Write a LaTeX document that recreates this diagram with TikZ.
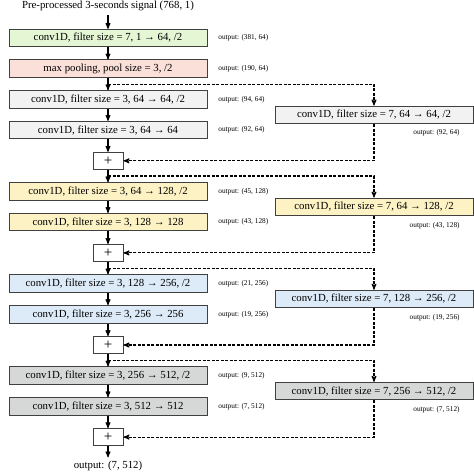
\documentclass[tikz,border=0pt]{standalone}
\usepackage{fontspec}
\setmainfont{Liberation Serif}
\usetikzlibrary{arrows,positioning}
\definecolor{cgreen}{RGB}{228,246,212}
\definecolor{cpink}{RGB}{251,223,217}
\definecolor{clight}{RGB}{242,242,242}
\definecolor{cyellow}{RGB}{252,242,196}
\definecolor{cblue}{RGB}{221,234,247}
\definecolor{cgray}{RGB}{214,216,216}
\begin{document}
\begin{tikzpicture}[->,>=stealth',line width=1.1pt,node distance=30.7pt]
\tikzstyle{every node}=[font=\fontsize{10.8}{12}\selectfont]
\tikzstyle{layer}=[draw=black!75,line width=1pt,minimum width=198pt,minimum height=17.5pt,inner sep=0pt]
\tikzstyle{plus}=[draw=black!75,line width=1pt,minimum width=30pt,minimum height=17pt,inner sep=0pt,font=\fontsize{15}{15}\selectfont]
\tikzstyle{outsize}=[font=\fontsize{7.3}{8}\selectfont,anchor=west,xshift=7pt]
\tikzstyle{outsizer}=[font=\fontsize{7.3}{8}\selectfont,anchor=north east,xshift=-10pt,yshift=-2pt]
\tikzstyle{skip}=[dash pattern=on 3pt off 1.5pt]
\useasboundingbox (0,0) rectangle (474pt,-474pt);
\node (In) at (108pt,-6pt) {Pre-processed 3-seconds signal (768, 1)};
\node[layer,fill=cgreen][below of=In,node distance=32pt] (C1) {conv1D, filter size = 7, 1 → 64, /2};
\node[layer,fill=cpink][below of=C1] (MP) {max pooling, pool size = 3, /2};
% stage 1
\node[layer,fill=clight][below of=MP] (A1) {conv1D, filter size = 3, 64 → 64, /2};
\node[layer,fill=clight][below of=A1] (B1) {conv1D, filter size = 3, 64 → 64};
\node[plus][below of=B1] (P1) {+};
\node[layer,fill=clight][right of=A1,node distance=266pt,yshift=-15.35pt] (R1) {conv1D, filter size = 7, 64 → 64, /2};
% stage 2
\node[layer,fill=cyellow][below of=P1] (A2) {conv1D, filter size = 3, 64 → 128, /2};
\node[layer,fill=cyellow][below of=A2] (B2) {conv1D, filter size = 3, 128 → 128};
\node[plus][below of=B2] (P2) {+};
\node[layer,fill=cyellow][right of=A2,node distance=266pt,yshift=-15.35pt] (R2) {conv1D, filter size = 7, 64 → 128, /2};
% stage 3
\node[layer,fill=cblue][below of=P2] (A3) {conv1D, filter size = 3, 128 → 256, /2};
\node[layer,fill=cblue][below of=A3] (B3) {conv1D, filter size = 3, 256 → 256};
\node[plus][below of=B3] (P3) {+};
\node[layer,fill=cblue][right of=A3,node distance=266pt,yshift=-15.35pt] (R3) {conv1D, filter size = 7, 128 → 256, /2};
% stage 4
\node[layer,fill=cgray][below of=P3] (A4) {conv1D, filter size = 3, 256 → 512, /2};
\node[layer,fill=cgray][below of=A4] (B4) {conv1D, filter size = 3, 512 → 512};
\node[plus][below of=B4] (P4) {+};
\node[layer,fill=cgray][right of=A4,node distance=266pt,yshift=-15.35pt] (R4) {conv1D, filter size = 7, 256 → 512, /2};
\node[below of=P4,node distance=29pt] (Out) {output: (7, 512)};
% output sizes
\node[outsize] (oC1) at (C1.east) {output: (381, 64)};
\node[outsize] (oMP) at (MP.east) {output: (190, 64)};
\node[outsize] (oA1) at (A1.east) {output: (94, 64)};
\node[outsize] (oB1) at (B1.east) {output: (92, 64)};
\node[outsizer] (oR1) at (R1.south east) {output: (92, 64)};
\node[outsize] (oA2) at (A2.east) {output: (45, 128)};
\node[outsize] (oB2) at (B2.east) {output: (43, 128)};
\node[outsizer] (oR2) at (R2.south east) {output: (43, 128)};
\node[outsize] (oA3) at (A3.east) {output: (21, 256)};
\node[outsize] (oB3) at (B3.east) {output: (19, 256)};
\node[outsizer] (oR3) at (R3.south east) {output: (19, 256)};
\node[outsize] (oA4) at (A4.east) {output: (9, 512)};
\node[outsize] (oB4) at (B4.east) {output: (7, 512)};
\node[outsizer] (oR4) at (R4.south east) {output: (7, 512)};
% main path
\path (In) edge (C1)
      (C1) edge (MP)
      (MP) edge (A1)
      (A1) edge (B1)
      (B1) edge (P1)
      (P1) edge (A2)
      (A2) edge (B2)
      (B2) edge (P2)
      (P2) edge (A3)
      (A3) edge (B3)
      (B3) edge (P3)
      (P3) edge (A4)
      (A4) edge (B4)
      (B4) edge (P4)
      (P4) edge (Out);
% shortcuts
\path (MP) -- coordinate[midway] (S1) (A1);
\path (P1) -- coordinate[midway] (S2) (A2);
\path (P2) -- coordinate[midway] (S3) (A3);
\path (P3) -- coordinate[midway] (S4) (A4);
\draw[skip] (S1) -| (R1);
\draw[skip] (R1) |- (P1);
\draw[skip] (S2) -| (R2);
\draw[skip] (R2) |- (P2);
\draw[skip] (S3) -| (R3);
\draw[skip] (R3) |- (P3);
\draw[skip] (S4) -| (R4);
\draw[skip] (R4) |- (P4);
\end{tikzpicture}
\end{document}
